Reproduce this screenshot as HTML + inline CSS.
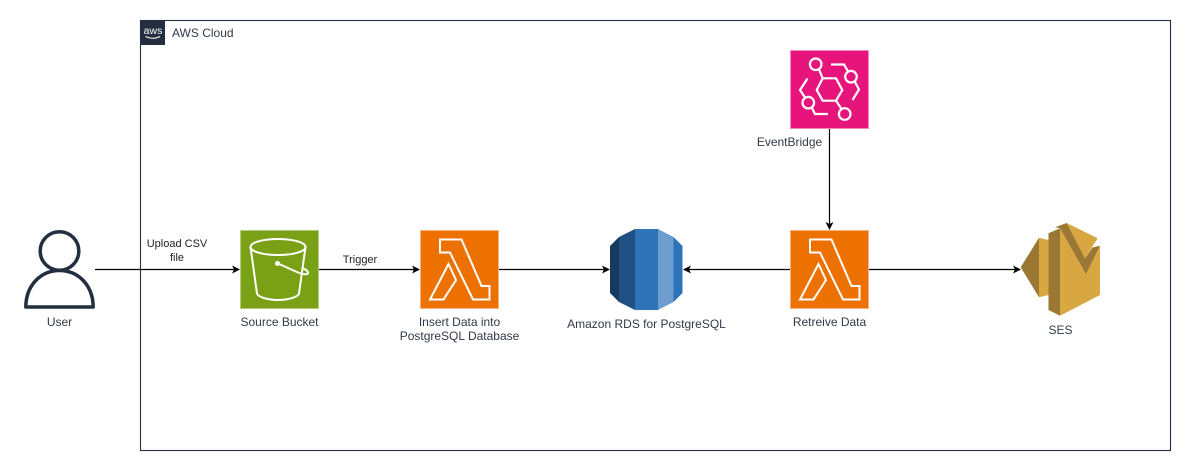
<!DOCTYPE html>
<html><head><meta charset="utf-8"><style>
html,body{margin:0;padding:0;background:#fff;width:1191px;height:472px;overflow:hidden}
svg{display:block}
text{font-family:"Liberation Sans",Arial,sans-serif;font-size:12px;fill:#2F3A48;text-anchor:middle}
.e{font-size:11px;fill:#222}
.i{fill:none;stroke:#fff;stroke-width:2;stroke-linejoin:miter}
.l{stroke:#000;stroke-width:1.2;fill:none}
</style></head><body>
<svg width="1191" height="472" viewBox="0 0 1191 472" xmlns="http://www.w3.org/2000/svg">
<rect width="1191" height="472" fill="#fff"/>
<!-- frame -->
<rect x="140.5" y="20.5" width="1030" height="430" fill="none" stroke="#232F3E" stroke-width="1.1"/>
<rect x="140" y="20" width="25" height="25" fill="#232F3E"/>
<text x="153" y="34" style="font-size:10.5px;fill:#fff">aws</text>
<path d="M145.500 36.500 Q153 40 160 36.500" fill="none" stroke="#fff" stroke-width="1.100"/>
<text x="172" y="37" style="text-anchor:start">AWS Cloud</text>

<!-- user -->
<circle cx="59.500" cy="251" r="19.300" fill="#fff" stroke="#232F3E" stroke-width="3.500"/>
<path d="M25.800 307 C26 285 41 270.500 59.500 270.500 C78 270.500 93 285 93.200 307 Z" fill="#fff" stroke="#232F3E" stroke-width="3.500" stroke-linejoin="round"/>
<text x="59.500" y="326">User</text>

<!-- connectors -->
<path class="l" d="M95 269.500H234M318 269.500H414M498 269.500H604M790 269.500H689M868 269.500H1015M829.500 128V224"/>
<path d="M240 269.500l-8-4 2 4-2 4z"/>
<path d="M420 269.500l-8-4 2 4-2 4z"/>
<path d="M610 269.500l-8-4 2 4-2 4z"/>
<path d="M683 269.500l8-4-2 4 2 4z"/>
<path d="M1021 269.500l-8-4 2 4-2 4z"/>
<path d="M829.500 230l-4-8 4 2 4-2z"/>
<text class="e" x="177" y="247">Upload CSV</text>
<text class="e" x="177" y="261">file</text>
<text class="e" x="360" y="263">Trigger</text>

<!-- S3 -->
<rect x="240.500" y="230.500" width="78" height="78" fill="#7AA116" stroke="#B5CC7F" stroke-width="1"/>
<ellipse cx="278" cy="247" rx="27.500" ry="8" class="i"/>
<path class="i" d="M250.500 247L257 293.500C258 297 268 300 278 300S298 297 299 293.500L305.500 247"/>
<circle cx="277.500" cy="263.500" r="2.500" fill="#fff"/>
<path class="i" d="M278 263.500L298 272.500C304 275 308 274.500 308 273 C308 270.500 305 269 301.500 268"/>
<text x="279.500" y="326">Source Bucket</text>

<!-- Lambda 1 -->
<rect x="420.500" y="230.500" width="78" height="78" fill="#ED7100" stroke="#F6B27F" stroke-width="1"/>
<path class="i" d="M440 239.500H461.500L481.500 286H489.500V299.500H473L450 252.500H440Z"/>
<path class="i" d="M448.500 264L456 280L443.500 299.500H430Z"/>
<text x="459.500" y="326">Insert Data into</text>
<text x="459.500" y="340">PostgreSQL Database</text>

<!-- RDS -->
<path fill="#173B5E" d="M610 246L619 237V302L610 293Z"/>
<path fill="#205081" d="M619 237L635 229V310L619 302Z"/>
<path fill="#2E73B8" d="M635 229H658V310H635Z"/>
<path fill="#6D9CCF" d="M658 229L673.500 237V302L658 310Z"/>
<path fill="#2E73B8" d="M673.500 237L682.500 246V293L673.500 302Z"/>
<text x="646.500" y="328">Amazon RDS for PostgreSQL</text>

<!-- Lambda 2 -->
<rect x="790.500" y="230.500" width="78" height="78" fill="#ED7100" stroke="#F6B27F" stroke-width="1"/>
<path class="i" d="M810 239.500H831.500L851.500 286H859.500V299.500H843L820 252.500H810Z"/>
<path class="i" d="M818.500 264L826 280L813.500 299.500H800Z"/>
<text x="829.500" y="326">Retreive Data</text>

<!-- EventBridge -->
<rect x="790.500" y="50.500" width="78" height="78" fill="#E7157B" stroke="#F38ABD" stroke-width="1"/>
<g fill="none" stroke="#fff" stroke-width="2.200">
<path d="M816.700 90L822.700 78.300H836L842.300 90L836 100.700H822.700Z"/>
<circle cx="815.700" cy="64.300" r="5.800"/>
<circle cx="851" cy="76.700" r="5.800"/>
<circle cx="808.300" cy="102.700" r="5.800"/>
<circle cx="844.700" cy="114" r="5.800"/>
<path d="M819 69.500L822.700 78.300M836 100.700L841.500 109"/>
<path d="M831 64.500H844L848 71.500"/>
<path d="M855 82L859 89.500L852.500 100"/>
<path d="M807.500 78.500L800 90L805 97.500"/>
<path d="M812 108L815 114H828"/>
</g>
<text x="789.500" y="146">EventBridge</text>

<!-- SES -->
<path fill="#9A7733" d="M1020.700 267.300L1039 237.700V297.300Z"/>
<path fill="#D9A741" d="M1039 237.700L1048.500 240V295L1039 297.300Z"/>
<path fill="#9A7733" d="M1048.500 233.300L1060 228.300V315.700L1048.500 310Z"/>
<path fill="#D9A741" d="M1060 228.300L1086 274.300L1100 245.700V295L1060 315.700Z"/>
<path fill="#D9A741" d="M1066.700 223L1097.700 238.300L1085 258.300Z"/>
<path fill="#9A7733" d="M1055 227.300L1066.700 223L1085 258.300L1092.500 247.500L1100 245.700L1086 274.300L1060 228.300Z"/>
<text x="1060.500" y="334">SES</text>
</svg>
</body></html>
